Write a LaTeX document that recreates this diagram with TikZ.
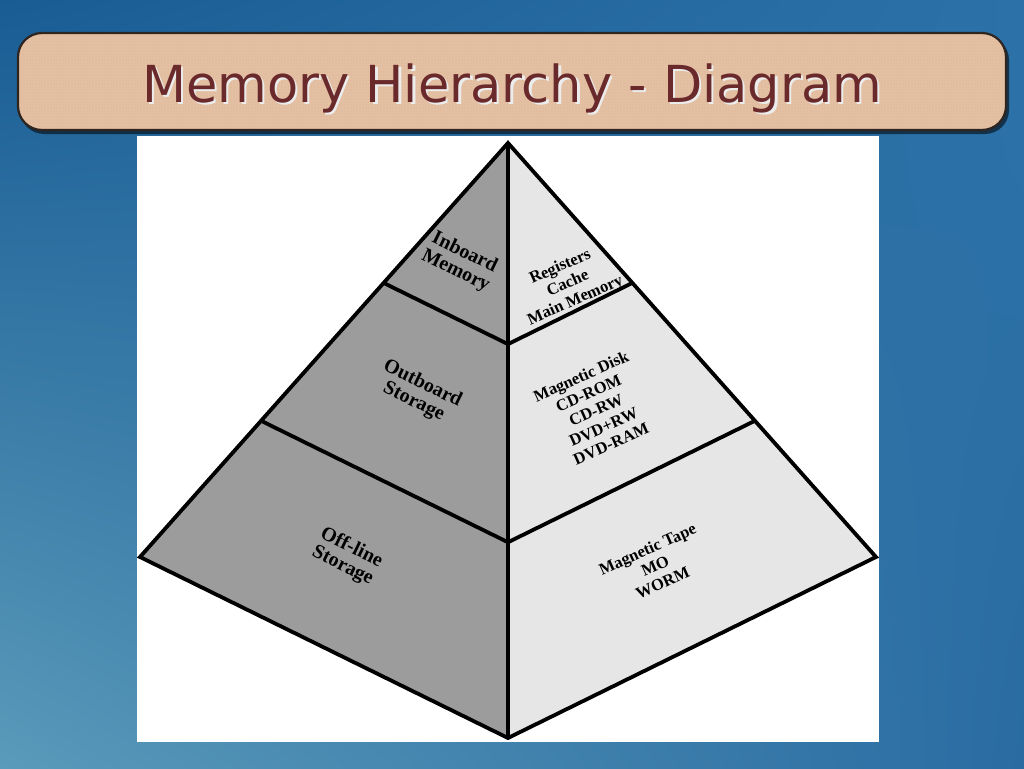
\documentclass[tikz,border=0pt]{standalone}
\usepackage{fontspec}
\setmainfont{Liberation Serif}
\newfontfamily\titlefont{DejaVu Sans}
\usepackage{xcolor}
\usetikzlibrary{calc,patterns,shadings}

\definecolor{bgtl}{HTML}{195C94}
\definecolor{bgtr}{HTML}{2C72A8}
\definecolor{bgbl}{HTML}{5A9ABA}
\definecolor{bgbr}{HTML}{2A6CA2}
\definecolor{barfill}{HTML}{E6C2A6}
\definecolor{barline}{HTML}{2E2420}
\definecolor{titlered}{HTML}{6A2A2C}
\definecolor{darkface}{HTML}{9C9C9C}
\definecolor{lightface}{HTML}{E6E6E6}

\begin{document}
\begin{tikzpicture}[
    x=1pt, y=-1pt,
    edge/.style={draw=black, line width=3.8pt, line join=miter},
    tier/.style={align=center, inner sep=0pt, font=\bfseries},
    tierleft/.style={tier, rotate=-26,
      font=\fontsize{20}{20}\selectfont\bfseries},
    tierright/.style={tier, rotate=24,
      font=\fontsize{16.5}{18.5}\selectfont\bfseries},
    titletext/.style={anchor=base, inner sep=0pt,
      font=\titlefont\fontsize{51}{51}\selectfont},
  ]
  \useasboundingbox (0,0) rectangle (1024,768);

  % Background
  \shade[upper left=bgtl, upper right=bgtr, lower left=bgbl,
    lower right=bgbr] (0,0) rectangle (1024,768);

  % Title bar
  \fill[black, opacity=0.55, rounded corners=24pt]
    (20,36) rectangle (1009,134);
  \fill[barfill, rounded corners=24pt] (18,33) rectangle (1006,130);
  \fill[pattern=crosshatch, pattern color=brown!60, opacity=0.25,
    rounded corners=24pt] (18,33) rectangle (1006,130);
  \draw[barline, line width=2.2pt, rounded corners=24pt]
    (18,33) rectangle (1006,130);
  \node[titletext, text=gray!15] at (514.5,104.5) {Memory Hierarchy - Diagram};
  \node[titletext, text=titlered] (title) at (512,102)
    {Memory Hierarchy - Diagram};

  % White panel
  \fill[white] (137,136) rectangle (879,742);

  % Pyramid corners
  \coordinate (apex) at (508,143);
  \coordinate (left) at (140,557);
  \coordinate (right) at (876,557);
  \coordinate (bottom) at (508,738);

  % Tier boundaries
  \coordinate (l1) at ($(apex)!0.338!(left)$);
  \coordinate (c1) at ($(apex)!0.338!(bottom)$);
  \coordinate (r1) at ($(apex)!0.338!(right)$);
  \coordinate (l2) at ($(apex)!0.671!(left)$);
  \coordinate (c2) at ($(apex)!0.671!(bottom)$);
  \coordinate (r2) at ($(apex)!0.671!(right)$);

  % Faces
  \fill[darkface] (apex) -- (left) -- (bottom) -- cycle;
  \fill[lightface] (apex) -- (right) -- (bottom) -- cycle;
  \draw[edge] (apex) -- (left) -- (bottom) -- (right) -- cycle;
  \draw[edge] (apex) -- (bottom);
  \draw[edge] (l1) -- (c1) -- (r1);
  \draw[edge] (l2) -- (c2) -- (r2);

  % Labels
  \node[tierleft] (inboard) at (460,262) {Inboard\\Memory};
  \node[tierright] (registers) at (568,284) {Registers\\Cache\\Main Memory};
  \node[tierleft] (outboard) at (418,393) {Outboard\\Storage};
  \node[tierright] (disk) at (596,410)
    {Magnetic Disk\\CD-ROM\\CD-RW\\DVD+RW\\DVD-RAM};
  \node[tierleft] (offline) at (347,557) {Off-line\\Storage};
  \node[tierright] (tape) at (655,566) {Magnetic Tape\\MO\\WORM};
\end{tikzpicture}
\end{document}
